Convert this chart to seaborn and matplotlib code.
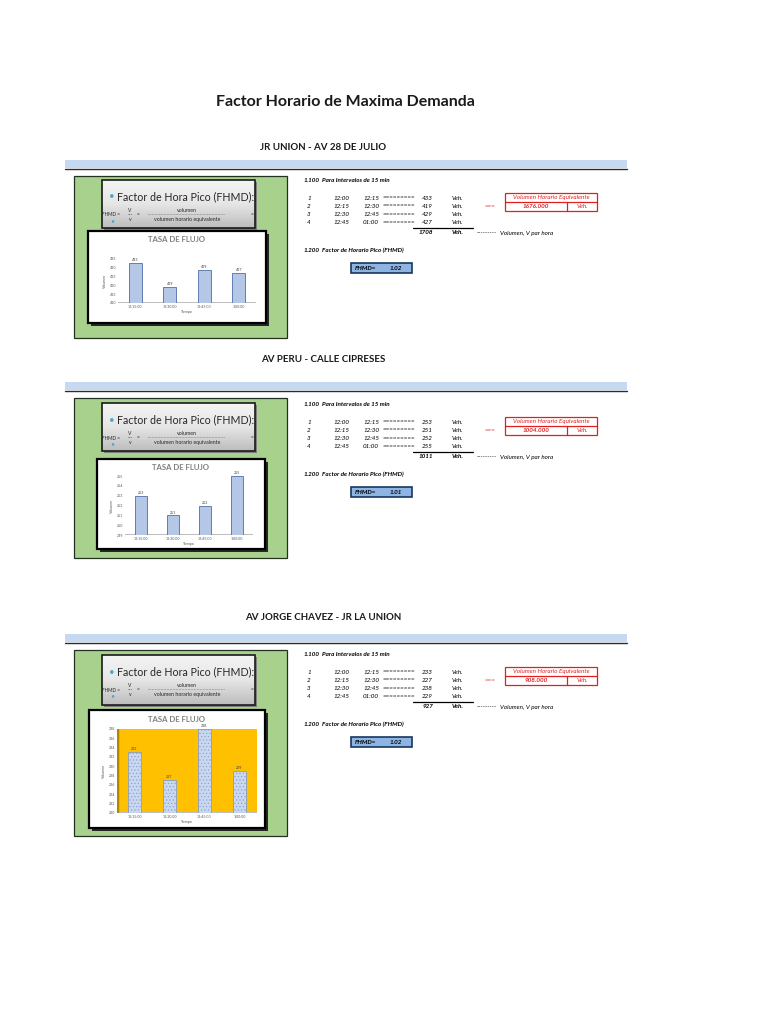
import numpy as np
import pandas as pd
import seaborn as sns
import matplotlib.pyplot as plt
from matplotlib.patches import Rectangle
from matplotlib.colors import LinearSegmentedColormap

sns.set_theme(style="white")
plt.rcParams["font.family"] = ["Lato", "DejaVu Sans"]
plt.rcParams["hatch.linewidth"] = 0.35

# ---- data ----
titulo = "Factor Horario de Maxima Demanda"
tramos = ["JR UNION - AV 28 DE JULIO", "AV PERU - CALLE CIPRESES", "AV JORGE CHAVEZ - JR LA UNION"]
intervalos = ["1", "2", "3", "4"]
inicio = ["12:00", "12:15", "12:30", "12:45"]
fin = ["12:15", "12:30", "12:45", "01:00"]
tiempos = ["12:15:00", "12:30:00", "12:45:00", "1:00:00"]
vol_union = [433, 419, 429, 427]
vol_peru = [253, 251, 252, 255]
vol_chavez = [233, 227, 238, 229]
totales = [1708, 1011, 927]
vol_equivalente = ["1676.000", "1004.000", "908.000"]
fhmd = ["1.02", "1.01", "1.02"]
volumenes = [vol_union, vol_peru, vol_chavez]

# ---- page layout (pixels, y downwards) ----
W, H = 768, 1024
secciones = [
    dict(head=147, band=160, green=(74, 176, 287, 338), formula=(102, 180, 255, 228),
         chart=(88, 231, 266, 323), plot=(118, 259, 256, 303), yticks=np.arange(410, 436, 5),
         tabla=180, fondo=None),
    dict(head=359, band=382, green=(74, 398, 287, 558), formula=(102, 403, 255, 451),
         chart=(97, 459, 265, 549), plot=(125, 476, 253, 535), yticks=np.arange(249, 256, 1),
         tabla=404, fondo=None),
    dict(head=617, band=634, green=(74, 650, 287, 836), formula=(102, 655, 255, 705),
         chart=(89, 710, 265, 828), plot=(117, 729, 257, 813), yticks=np.arange(220, 239, 2),
         tabla=654, fondo="#ffc000"),
]

fig = plt.figure(figsize=(W / 100, H / 100), dpi=100)
doc = fig.add_axes([0, 0, 1, 1])
doc.axis("off")

gris = LinearSegmentedColormap.from_list("gris", ["#f4f4f4", "#e6e6e6", "#bdbdbd"])


def caja(x0, y0, x1, y1, **kw):
    doc.add_patch(Rectangle((x0, y0), x1 - x0, y1 - y0, **kw))


def en_fig(x0, y0, x1, y1):
    return [x0 / W, 1 - y1 / H, (x1 - x0) / W, (y1 - y0) / H]


def formula(x0, y0, x1, y1):
    caja(x0 + 2, y0 + 2, x1 + 2, y1 + 2, facecolor="#7f7f7f", edgecolor="none", zorder=2)
    doc.imshow(np.linspace(0, 1, 60)[:, None], extent=(x0, x1, y1, y0), origin="upper",
               cmap=gris, aspect="auto", zorder=3)
    caja(x0, y0, x1, y1, facecolor="none", edgecolor="#1a1a1a", lw=1.2, zorder=4)
    doc.text(x0 + 10, y0 + 17, "•", color="#4bacc6", fontsize=7, va="center", ha="center", zorder=5)
    doc.text(x0 + 15, y0 + 17, "Factor de Hora Pico (FHMD):", color="#262626", fontsize=7.7,
             va="center", ha="left", zorder=5)
    ym = y0 + 35
    doc.text(x0 + 0.5, ym, "FHMD =", fontsize=3.4, color="#262626", va="center", ha="left", zorder=5)
    doc.text(x0 + 28, ym - 4.5, "V", fontsize=3.6, color="#262626", va="center", ha="center", zorder=5)
    doc.text(x0 + 28, ym, "---", fontsize=3.4, color="#262626", va="center", ha="center", zorder=5)
    doc.text(x0 + 28, ym + 4.5, "v", fontsize=3.6, color="#262626", va="center", ha="center", zorder=5)
    doc.text(x0 + 36, ym, "=", fontsize=3.6, color="#262626", va="center", ha="center", zorder=5)
    doc.text(x0 + 85, ym - 4.5, "volumen", fontsize=3.8, color="#262626", va="center", ha="center", zorder=5)
    doc.text(x0 + 85, ym, "-" * 52, fontsize=3.0, color="#262626", va="center", ha="center", zorder=5)
    doc.text(x0 + 85, ym + 4.5, "volumen horario equivalente", fontsize=3.8, color="#262626",
             va="center", ha="center", zorder=5)
    doc.text(x1 - 3, ym, "=", fontsize=3.6, color="#262626", va="center", ha="center", zorder=5)
    doc.text(x0 + 10, ym + 6, "•", color="#4bacc6", fontsize=5, va="center", ha="center", zorder=5)


def tabla(y, valores, total, equivalente, factor):
    it = dict(fontsize=4.5, style="italic", color="black", va="center")
    doc.text(303, y, "1.100", weight="bold", **it)
    doc.text(322, y, "Para Intervalos de 15 min", weight="bold", **it)
    for i, (n, a, b, v) in enumerate(zip(intervalos, inicio, fin, valores)):
        yy = y + 18 + i * 8.3
        doc.text(309, yy, n, ha="center", **it)
        doc.text(333, yy, a, **it)
        doc.text(363, yy, b, **it)
        doc.text(383, yy, "=========", **it)
        doc.text(433, yy, str(v), ha="right", **it)
        doc.text(452, yy, "Veh.", **it)
    doc.plot([413, 473], [y + 47.5, y + 47.5], color="black", lw=0.9)
    doc.text(433, y + 53, str(total), ha="right", weight="bold", **it)
    doc.text(452, y + 53, "Veh.", weight="bold", **it)
    doc.text(477, y + 53, "---------", **it)
    doc.text(500, y + 53, "Volumen, V par hora", **it)
    # red box with the equivalent hourly volume
    doc.text(485, y + 27, "===", color="#e02020", fontsize=4.5, style="italic", va="center")
    caja(505, y + 13, 597, y + 31, facecolor="white", edgecolor="#e02020", lw=0.9)
    doc.plot([505, 597], [y + 22, y + 22], color="#e02020", lw=0.9)
    doc.plot([567, 567], [y + 22, y + 31], color="#e02020", lw=0.9)
    doc.text(551, y + 17.5, "Volumen Horario Equivalente", color="#e02020", fontsize=4.5,
             style="italic", ha="center", va="center")
    doc.text(536, y + 26.5, equivalente, color="#e02020", fontsize=4.5, style="italic",
             weight="bold", ha="center", va="center")
    doc.text(582, y + 26.5, "Veh.", color="#e02020", fontsize=4.5, style="italic",
             ha="center", va="center")
    doc.text(303, y + 70, "1.200", weight="bold", **it)
    doc.text(322, y + 70, "Factor de Horario Pico (FHMD)", weight="bold", **it)
    caja(351, y + 83, 412, y + 93, facecolor="#8db4e2", edgecolor="#17375e", lw=1.2)
    doc.text(355, y + 88, "FHMD=", weight="bold", **it)
    doc.text(396, y + 88, factor, weight="bold", ha="center", **it)


def tasa_de_flujo(s, valores):
    x0, y0, x1, y1 = s["chart"]
    caja(x0 + 2.5, y0 + 2.5, x1 + 2.5, y1 + 2.5, facecolor="#262626", edgecolor="none", zorder=2)
    caja(x0, y0, x1, y1, facecolor="white", edgecolor="black", lw=1.6, zorder=3)
    doc.text((x0 + x1) / 2, y0 + 9, "TASA DE FLUJO", fontsize=5.6, weight="bold",
             color="#7f7f7f", ha="center", va="center", zorder=5)

    ax = fig.add_axes(en_fig(*s["plot"]))
    df = pd.DataFrame({"Tiempo": tiempos, "Volumen": valores})
    if s["fondo"]:
        ax.set_facecolor(s["fondo"])
        sns.barplot(data=df, x="Tiempo", y="Volumen", ax=ax, color="#c9d7f0", width=0.38,
                    edgecolor="#7a96c8", linewidth=0.5, hatch=".....", saturation=1)
        ax.axvline(-0.5, color="#b38600", lw=2.5)
    else:
        ax.set_facecolor("none")
        sns.barplot(data=df, x="Tiempo", y="Volumen", ax=ax, color="#b4c7e7", width=0.38,
                    edgecolor="#4f6fa8", linewidth=0.6, saturation=1)
    yt = s["yticks"]
    ax.set_ylim(yt[0], yt[-1])
    ax.set_xlim(-0.5, 3.5)
    ax.set_yticks(yt)
    ax.axhline(yt[0], color="#bfbfbf", lw=2.2, zorder=0.5)
    ax.bar_label(ax.containers[0], fontsize=2.6, color="#404040", padding=0.6)
    ax.tick_params(axis="both", labelsize=2.6, colors="#595959", length=0, pad=1.5)
    ax.set_xlabel("Tiempo", fontsize=2.6, color="#595959", labelpad=1)
    ax.set_ylabel("Volumen", fontsize=2.6, color="#595959", labelpad=2)
    sns.despine(ax=ax, left=True, bottom=True)


doc.text(345, 102, titulo, fontsize=11.5, weight="bold", color="#1a1a1a", ha="center", va="center")

for s, tramo, vals, tot, eq, f in zip(secciones, tramos, volumenes, totales, vol_equivalente, fhmd):
    doc.text(323, s["head"], tramo, fontsize=7.0, weight="bold", color="#1a1a1a", ha="center", va="center")
    caja(65, s["band"], 627, s["band"] + 8, facecolor="#c5d9f1", edgecolor="none")
    doc.plot([65, 627], [s["band"] + 8.5, s["band"] + 8.5], color="#1f2d3d", lw=1.0)
    gx0, gy0, gx1, gy1 = s["green"]
    caja(gx0, gy0, gx1, gy1, facecolor="#a9d18e", edgecolor="#243020", lw=0.9, zorder=1)
    formula(*s["formula"])
    tabla(s["tabla"], vals, tot, eq, f)
    tasa_de_flujo(s, vals)

doc.set_xlim(0, W)
doc.set_ylim(H, 0)

fig.savefig("out.png", dpi=100, facecolor="white")
